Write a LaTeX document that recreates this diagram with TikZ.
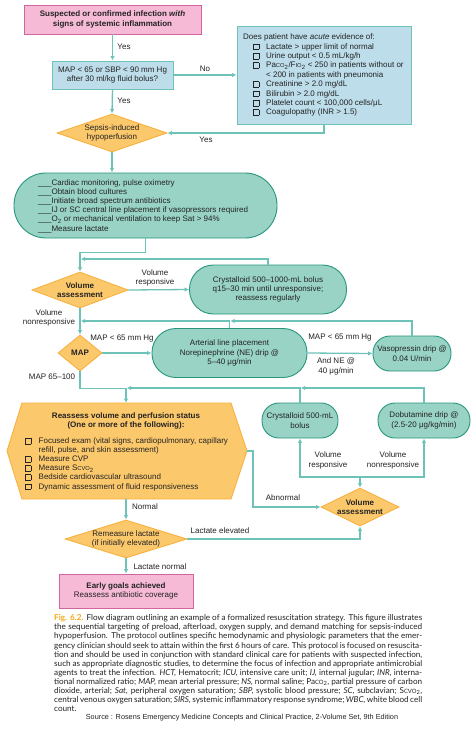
\documentclass[tikz,border=0pt]{standalone}
\usepackage{fontspec}
\setmainfont{Liberation Sans}
\newfontfamily\capfont{Lato}
\usetikzlibrary{shapes.geometric,arrows.meta}
\definecolor{txt}{RGB}{35,35,35}
\definecolor{conn}{RGB}{110,195,185}
\definecolor{pinkf}{RGB}{246,186,214}
\definecolor{pinkd}{RGB}{210,100,160}
\definecolor{bluef}{RGB}{189,221,234}
\definecolor{tealf}{RGB}{152,211,197}
\definecolor{teald}{RGB}{40,150,125}
\definecolor{oraf}{RGB}{252,200,108}
\definecolor{orad}{RGB}{246,178,62}
\definecolor{figc}{RGB}{240,170,20}
\newcommand\dfont{\fontsize{8}{9.4}\selectfont}
\newcommand\chk{{\setlength\fboxsep{0pt}\setlength\fboxrule{0.5pt}\fbox{\rule{0pt}{5pt}\hspace{5pt}}}}
\newcommand\smc[1]{{\fontsize{5.8}{6}\selectfont #1}}
\newcommand\capsm[1]{{\fontsize{5.9}{6}\selectfont #1}}
\newcommand\cl[1]{\hbox to 368pt{#1}}
\begin{document}
\begin{tikzpicture}[x=1pt,y=-1pt, font=\dfont, text=txt,
  arr/.style={draw=conn, line width=1.3pt, -{Latex[length=4.5pt,width=4.5pt]}},
  lbl/.style={font=\dfont, align=center, inner sep=0pt},
  pinkbox/.style={draw=pinkd, fill=pinkf, line width=0.9pt, inner sep=0pt},
  bluebox/.style={draw=conn, fill=bluef, line width=1pt, inner sep=0pt},
  tealbox/.style={draw=teald, fill=tealf, line width=0.9pt, inner sep=0pt},
  dia/.style={diamond, draw=orad, fill=oraf, line width=0.9pt, inner sep=0pt},
  btxt/.style={font=\dfont\bfseries, align=center, inner sep=0pt}]
\fill[white] (0,0) rectangle (474,731);
\useasboundingbox (0,0) rectangle (474,731);

% top boxes
\node[pinkbox, minimum width=177pt, minimum height=29pt, align=center, font=\fontsize{8}{9.2}\selectfont\bfseries] (b1) at (112.5,19.5) {Suspected or confirmed infection \textit{with}\\signs of systemic inflammation};
\node[bluebox, minimum width=121pt, minimum height=28pt, align=center] (b2) at (112.5,75) {MAP < 65 or SBP < 90 mm Hg\\after 30 ml/kg fluid bolus?};
\node[bluebox, minimum width=174pt, minimum height=98pt] (b3) at (324,75) {};
\node[anchor=west, inner sep=0pt] (b3t) at (243,75.5) {\begin{tabular}{@{\hspace{10pt}}l@{\hspace{7pt}}l@{}}
\multicolumn{2}{@{}l@{}}{Does patient have \textit{acute} evidence of:}\\
\chk & Lactate > upper limit of normal\\
\chk & Urine output < 0.5 mL/kg/h\\
\chk & Pa\smc{CO}\textsubscript{2}/F\smc{IO}\textsubscript{2} < 250 in patients without or\\
 & < 200 in patients with pneumonia\\
\chk & Creatinine > 2.0 mg/dL\\
\chk & Bilirubin > 2.0 mg/dL\\
\chk & Platelet count < 100,000 cells/μL\\
\chk & Coagulopathy (INR > 1.5)
\end{tabular}};

\node[dia, minimum width=110pt, minimum height=38pt] (d1) at (112,133) {};
\node[lbl] (d1t) at (d1) {Sepsis-induced\\hypoperfusion};

% cardiac box
\node[tealbox, rounded corners=32pt, minimum width=263pt, minimum height=65pt] (c1) at (145.5,205.5) {};
\node[anchor=west, align=left, inner sep=0pt, font=\fontsize{8}{9.2}\selectfont] (c1t) at (38,206) {\_\_\_Cardiac monitoring, pulse oximetry\\
\_\_\_Obtain blood cultures\\
\_\_\_Initiate broad spectrum antibiotics\\
\_\_\_IJ or SC central line placement if vasopressors required\\
\_\_\_O\textsubscript{2} or mechanical ventilation to keep Sat > 94\%\\
\_\_\_Measure lactate};

% volume assessment 1
\node[dia, minimum width=96pt, minimum height=36pt] (va1) at (80,290) {};
\node[btxt] (va1t) at (va1) {Volume\\assessment};
\node[tealbox, rounded corners=24pt, minimum width=157pt, minimum height=49pt, align=center] (cr1) at (268,289.5) {Crystalloid 500–1000-mL bolus\\q15–30 min until unresponsive;\\reassess regularly};

% MAP row
\node[dia, minimum width=44pt, minimum height=36pt] (map) at (80,353) {};
\node[btxt] (mapt) at (map) {MAP};
\node[tealbox, rounded corners=24pt, minimum width=155pt, minimum height=49pt, align=center] (art) at (229.5,353) {Arterial line placement\\Norepinephrine (NE) drip @\\5–40 μg/min};
\node[tealbox, rounded corners=17pt, minimum width=78pt, minimum height=35pt, align=center] (vaso) at (412,353.5) {Vasopressin drip @\\0.04 U/min};

% hexagon
\coordinate (hl) at (7,451);
\coordinate (htl) at (22,403);
\coordinate (htr) at (231,403);
\coordinate (hr) at (247,451);
\coordinate (hbr) at (231,499);
\coordinate (hbl) at (22,499);
\coordinate (htop) at (126,403);
\coordinate (hbot) at (126,499);
\filldraw[draw=orad, fill=oraf, line width=0.9pt] (hl) -- (htl) -- (htr) -- (hr) -- (hbr) -- (hbl) -- cycle;
\node[btxt, font=\fontsize{8}{8.6}\selectfont\bfseries] (ht) at (126,421) {Reassess volume and perfusion status\\(One or more of the following):};
\node[anchor=west, inner sep=0pt, font=\fontsize{8}{9.1}\selectfont] (hlist) at (22,464.5) {\begin{tabular}{@{\hspace{3pt}}l@{\hspace{7.5pt}}l@{}}
\chk & Focused exam (vital signs, cardiopulmonary, capillary\\
 & refill, pulse, and skin assessment)\\
\chk & Measure CVP\\
\chk & Measure S\smc{CVO}\textsubscript{2}\\
\chk & Bedside cardiovascular ultrasound\\
\chk & Dynamic assessment of fluid responsiveness
\end{tabular}};

% right lower boxes
\node[tealbox, rounded corners=17pt, minimum width=76pt, minimum height=35pt, align=center] (cr2) at (300,420.5) {Crystalloid 500-mL\\bolus};
\node[tealbox, rounded corners=17pt, minimum width=92pt, minimum height=35pt, align=center] (dob) at (424,420.5) {Dobutamine drip @\\(2.5-20 μg/kg/min)};
\node[dia, minimum width=78pt, minimum height=38pt] (va2) at (360,507) {};
\node[btxt] (va2t) at (va2) {Volume\\assessment};
\coordinate (j2) at (360,477);

% bottom
\node[dia, minimum width=122pt, minimum height=38pt] (rl) at (126,539) {};
\node[lbl] (rlt) at (rl) {Remeasure lactate\\(if initially elevated)};
\node[pinkbox, minimum width=134pt, minimum height=34pt, align=center] (eg) at (126,591) {\textbf{Early goals achieved}\\Reassess antibiotic coverage};

% connectors
\draw[arr] (b1) -- (b2);
\draw[arr] (b2) -- (b3);
\draw[arr] (b2.south) -- (d1.north);
\draw[arr] (b3.south) |- (d1.east);
\draw[arr] (d1.south) -- (d1.south |- c1.north);
\draw[arr] (c1.south) -- ++(0,14) -| (va1.north);
\draw[arr] (cr1.north) |- (80.7,259);
\draw[arr] (va1.east) -- (cr1.west);
\draw[arr] (va1.south) -- (map.north);
\draw[arr] (art.north) |- (80.7,321);
\draw[arr] (vaso.north) |- (230.2,321);
\draw[arr] (map.east) -- (art.west);
\draw[arr] (art.east) -- (vaso.west);
\draw[arr] (map.south) -- ++(0,17) -| (htop);
\draw[arr] (cr2.north) |- (126.7,388);
\draw[arr] (dob.north) |- (300.7,388);
\draw[arr] (hr) -- ++(6,0) |- (va2.west);
\draw[arr] (j2) -- (va2.north);
\draw[arr] (j2) -| (cr2.south);
\draw[arr] (j2) -| (dob.south);
\draw[arr] (hbot) -- (rl.north);
\draw[arr] (rl.east) -| (va2.south);
\draw[arr] (rl.south) -- (eg.north);

% labels
\node[lbl] (l1) at (124,47) {Yes};
\node[lbl] (l2) at (205,69) {No};
\node[lbl] (l3) at (206,140) {Yes};
\node[lbl] (l4) at (124,101) {Yes};
\node[lbl] (l5) at (155,278) {Volume\\responsive};
\node[lbl] (l6) at (49,318) {Volume\\nonresponsive};
\node[lbl] (l7) at (122,339) {MAP < 65 mm Hg};
\node[lbl] (l8) at (340,338) {MAP < 65 mm Hg};
\node[lbl] (l9) at (336,366.5) {And NE @\\40 μg/min};
\node[lbl] (l10) at (52,377) {MAP 65–100};
\node[lbl] (l11) at (283,498) {Abnormal};
\node[lbl] (l12) at (328,460.5) {Volume\\responsive};
\node[lbl] (l13) at (393,460.5) {Volume\\nonresponsive};
\node[lbl] (l14) at (145,507) {Normal};
\node[lbl] (l15) at (220,531) {Lactate elevated};
\node[lbl] (l16) at (160,567) {Lactate normal};

% caption
\node[anchor=north west, inner sep=0pt, font=\capfont\fontsize{8.15}{9.1}\selectfont] (cap) at (54,614.5) {\vbox{\hsize=368pt\baselineskip=9.1pt\spaceskip=0.22em plus 1em minus 0.12em
\cl{{\color{figc}\bfseries Fig. 6.2.} Flow diagram outlining an example of a formalized resuscitation strategy. This figure illustrates}
\cl{the sequential targeting of preload, afterload, oxygen supply, and demand matching for sepsis-induced}
\cl{hypoperfusion. The protocol outlines specific hemodynamic and physiologic parameters that the emer-}
\cl{gency clinician should seek to attain within the first 6 hours of care. This protocol is focused on resuscita-}
\cl{tion and should be used in conjunction with standard clinical care for patients with suspected infection,}
\cl{such as appropriate diagnostic studies, to determine the focus of infection and appropriate antimicrobial}
\cl{agents to treat the infection. \textit{HCT,} Hematocrit; \textit{ICU,} intensive care unit; \textit{IJ,} internal jugular; \textit{INR,} interna-}
\cl{tional normalized ratio; \textit{MAP,} mean arterial pressure; \textit{NS,} normal saline; Pa\capsm{CO}\textsubscript{2}, partial pressure of carbon}
\cl{dioxide, arterial; \textit{Sat,} peripheral oxygen saturation; \textit{SBP,} systolic blood pressure; \textit{SC,} subclavian; S\capsm{CVO}\textsubscript{2},}
\cl{central venous oxygen saturation; \textit{SIRS,} systemic inflammatory response syndrome; \textit{WBC,} white blood cell}
\hbox{count.}}};
\node[inner sep=0pt, font=\fontsize{7.3}{8}\selectfont] (src) at (242,718) {Source : Rosens Emergency Medicine Concepts and Clinical Practice, 2-Volume Set, 9th Edition};
\end{tikzpicture}
\end{document}
